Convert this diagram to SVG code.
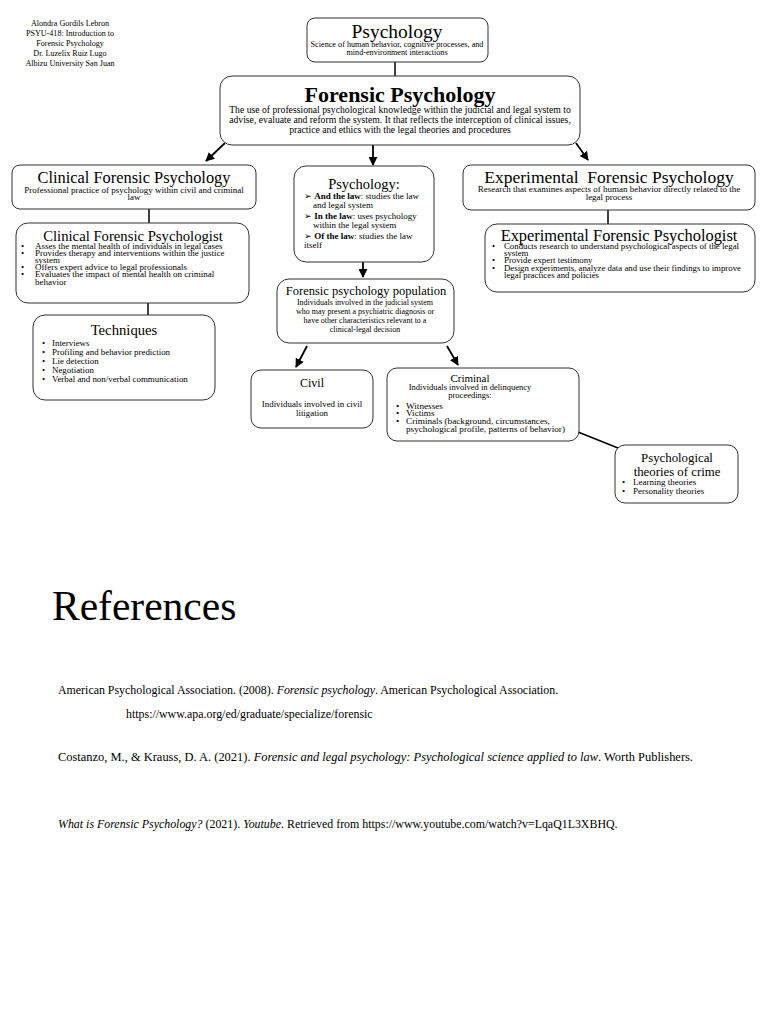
<svg xmlns="http://www.w3.org/2000/svg" width="768" height="1018" viewBox="0 0 768 1018" font-family="'Liberation Serif', 'Times New Roman', serif">
<defs>
<marker id="ah" viewBox="0 0 10 10" refX="9" refY="5" markerWidth="5" markerHeight="5" orient="auto-start-reverse" markerUnits="strokeWidth">
<path d="M0,0 L10,5 L0,10 z" fill="#000"/>
</marker>
</defs>
<style>
text{font-family:"Liberation Serif","Times New Roman",serif;fill:#000}
.box{fill:#fff;stroke:#333;stroke-width:1}
.c{text-anchor:middle}
.ln{stroke:#000;stroke-width:1.5;fill:none}
.ar{stroke:#000;stroke-width:1.8;fill:none;marker-end:url(#ah)}
.b{font-weight:bold}
.i{font-style:italic}
</style>
<rect width="768" height="1018" fill="#fff"/>

<g id="author" font-size="8.1">
<text x="70" y="26" class="c">Alondra Gordils Lebron</text>
<text x="70" y="36" class="c">PSYU-418: Introduction to</text>
<text x="70" y="46" class="c">Forensic Psychology</text>
<text x="70" y="56" class="c">Dr. Luzelix Ruiz Lugo</text>
<text x="70" y="66" class="c">Albizu University San Juan</text>
</g>

<g id="connectors">
<line class="ln" x1="395" y1="62" x2="395" y2="76"/>
<line class="ar" x1="225" y1="143" x2="206" y2="161"/>
<line class="ar" x1="373" y1="145" x2="373" y2="165"/>
<line class="ar" x1="576" y1="143" x2="588" y2="160"/>
<line class="ln" x1="149" y1="209" x2="149" y2="223"/>
<line class="ln" x1="148" y1="303" x2="148" y2="315"/>
<line class="ln" x1="608" y1="210" x2="608" y2="224"/>
<line class="ar" x1="363" y1="262" x2="363" y2="277"/>
<line class="ar" x1="307" y1="346" x2="296" y2="367"/>
<line class="ar" x1="447" y1="346" x2="458" y2="365"/>
<line class="ln" x1="578" y1="432" x2="618" y2="448" stroke-width="2"/>
</g>

<g id="psychology">
<rect class="box" x="307" y="18" width="181" height="44" rx="8"/>
<text x="397" y="38" font-size="19.5" class="c">Psychology</text>
<text x="397" y="47" font-size="8.2" class="c">Science of human behavior, cognitive processes, and</text>
<text x="397" y="55" font-size="8.2" class="c">mind-environment interactions</text>
</g>

<g id="forensic">
<rect class="box" x="220" y="76" width="360" height="69" rx="12"/>
<text x="400" y="102" font-size="22" class="c b">Forensic Psychology</text>
<text x="400" y="113" font-size="9.7" class="c">The use of professional psychological knowledge within the judicial and legal system to</text>
<text x="400" y="123" font-size="9.7" class="c">advise, evaluate and reform the system. It that reflects the interception of clinical issues,</text>
<text x="400" y="133" font-size="9.7" class="c">practice and ethics with the legal theories and procedures</text>
</g>

<g id="clinical">
<rect class="box" x="12" y="165" width="244" height="44" rx="8"/>
<text x="134" y="183" font-size="16.4" class="c">Clinical Forensic Psychology</text>
<text x="134" y="193" font-size="9" class="c">Professional practice of psychology within civil and criminal</text>
<text x="134" y="200" font-size="9" class="c">law</text>
</g>

<g id="clinical-psychologist">
<rect class="box" x="16" y="223" width="233" height="80" rx="12"/>
<text x="133" y="241" font-size="14.7" class="c">Clinical Forensic Psychologist</text>
<g font-size="9">
<text x="21" y="249">•</text><text x="35" y="249">Asses the mental health of individuals in legal cases</text>
<text x="21" y="256">•</text><text x="35" y="256">Provides therapy and interventions within the justice</text>
<text x="35" y="263">system</text>
<text x="21" y="270">•</text><text x="35" y="270">Offers expert advice to legal professionals</text>
<text x="21" y="277">•</text><text x="35" y="277">Evaluates the impact of mental health on criminal</text>
<text x="35" y="285">behavior</text>
</g>
</g>

<g id="techniques">
<rect class="box" x="33" y="315" width="182" height="85" rx="12"/>
<text x="124" y="335" font-size="14.7" class="c">Techniques</text>
<g font-size="8.9">
<text x="42" y="346">•</text><text x="52" y="346">Interviews</text>
<text x="42" y="355">•</text><text x="52" y="355">Profiling and behavior prediction</text>
<text x="42" y="364">•</text><text x="52" y="364">Lie detection</text>
<text x="42" y="373">•</text><text x="52" y="373">Negotiation</text>
<text x="42" y="382">•</text><text x="52" y="382">Verbal and non/verbal communication</text>
</g>
</g>

<g id="psychology-law">
<rect class="box" x="294" y="166" width="140" height="96" rx="12"/>
<text x="364" y="189" font-size="14.5" class="c">Psychology:</text>
<g font-size="9">
<text x="304" y="199">➢ <tspan class="b">And the law</tspan>: studies the law</text>
<text x="313" y="208">and legal system</text>
<text x="304" y="219">➢ <tspan class="b">In the law</tspan>: uses psychology</text>
<text x="313" y="228">within the legal system</text>
<text x="304" y="239">➢ <tspan class="b">Of the law</tspan>: studies the law</text>
<text x="304" y="248">itself</text>
</g>
</g>

<g id="population">
<rect class="box" x="277" y="279" width="177" height="64" rx="12"/>
<text x="366" y="295" font-size="12.5" class="c">Forensic psychology population</text>
<g font-size="8">
<text x="365" y="305" class="c">Individuals involved in the judicial system</text>
<text x="365" y="314" class="c">who may present a psychiatric diagnosis or</text>
<text x="365" y="323" class="c">have other characteristics relevant to a</text>
<text x="365" y="332" class="c">clinical-legal decision</text>
</g>
</g>

<g id="civil">
<rect class="box" x="251" y="370" width="122" height="58" rx="10"/>
<text x="312" y="387" font-size="12" class="c">Civil</text>
<text x="312" y="407" font-size="8.9" class="c">Individuals involved in civil</text>
<text x="312" y="416" font-size="8.9" class="c">litigation</text>
</g>

<g id="criminal">
<rect class="box" x="387" y="368" width="192" height="73" rx="10"/>
<text x="470" y="382" font-size="11" class="c">Criminal</text>
<text x="470" y="390" font-size="8.5" class="c">Individuals involved in delinquency</text>
<text x="470" y="398" font-size="8.5" class="c">proceedings:</text>
<g font-size="9.2">
<text x="396" y="409">•</text><text x="406" y="409">Witnesses</text>
<text x="396" y="416">•</text><text x="406" y="416">Victims</text>
<text x="396" y="424">•</text><text x="406" y="424">Criminals (background, circumstances,</text>
<text x="406" y="432">psychological profile, patterns of behavior)</text>
</g>
</g>

<g id="theories">
<rect class="box" x="615" y="445" width="123" height="58" rx="10"/>
<text x="677" y="462" font-size="12.8" class="c">Psychological</text>
<text x="677" y="476" font-size="12.8" class="c">theories of crime</text>
<g font-size="9">
<text x="622" y="485">•</text><text x="633" y="485">Learning theories</text>
<text x="622" y="494">•</text><text x="633" y="494">Personality theories</text>
</g>
</g>

<g id="experimental">
<rect class="box" x="463" y="165" width="292" height="45" rx="8"/>
<text x="609" y="183" font-size="17.5" class="c" xml:space="preserve">Experimental  Forensic Psychology</text>
<text x="609" y="192" font-size="9" class="c">Research that examines aspects of human behavior directly related to the</text>
<text x="609" y="200" font-size="9" class="c">legal process</text>
</g>

<g id="experimental-psychologist">
<rect class="box" x="485" y="224" width="270" height="68" rx="12"/>
<text x="619" y="241" font-size="16.4" class="c">Experimental Forensic Psychologist</text>
<g font-size="8.8">
<text x="492" y="249">•</text><text x="504" y="249">Conducts research to understand psychological aspects of the legal</text>
<text x="504" y="256">system</text>
<text x="492" y="263">•</text><text x="504" y="263">Provide expert testimony</text>
<text x="492" y="271">•</text><text x="504" y="271">Design experiments, analyze data and use their findings to improve</text>
<text x="504" y="278">legal practices and policies</text>
</g>
</g>

<g id="references">
<text x="52" y="620" font-size="41.5">References</text>
<text x="58" y="694" font-size="11.9">American Psychological Association. (2008). <tspan class="i">Forensic psychology</tspan>. American Psychological Association.</text>
<text x="126" y="718" font-size="11.9">https://www.apa.org/ed/graduate/specialize/forensic</text>
<text x="58" y="761" font-size="11.9" textLength="635" lengthAdjust="spacingAndGlyphs">Costanzo, M., &amp; Krauss, D. A. (2021). <tspan class="i">Forensic and legal psychology: Psychological science applied to law</tspan>. Worth Publishers.</text>
<text x="58" y="828" font-size="11.9"><tspan class="i">What is Forensic Psychology?</tspan> (2021). <tspan class="i">Youtube</tspan>. Retrieved from https://www.youtube.com/watch?v=LqaQ1L3XBHQ.</text>
</g>
</svg>
